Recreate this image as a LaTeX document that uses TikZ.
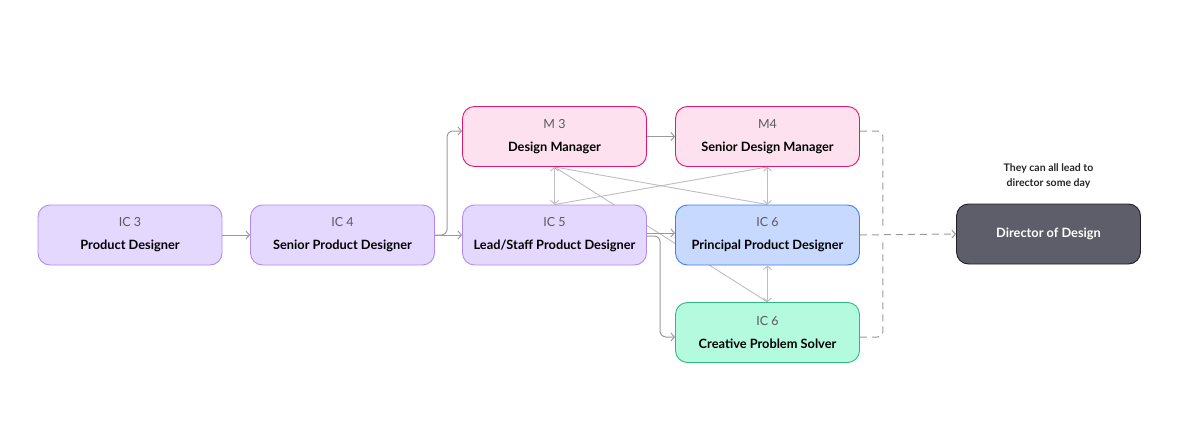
\documentclass[tikz,border=0pt]{standalone}
\usepackage{fontspec}
\setmainfont{Lato}
\usetikzlibrary{arrows.meta,calc}
\definecolor{icfill}{HTML}{E4D8FE}
\definecolor{icdraw}{HTML}{AE8CF7}
\definecolor{mfill}{HTML}{FEE1EF}
\definecolor{mdraw}{HTML}{E3176F}
\definecolor{pfill}{HTML}{C7D9FE}
\definecolor{pdraw}{HTML}{3D7EF6}
\definecolor{cfill}{HTML}{B3FADF}
\definecolor{cdraw}{HTML}{2EB982}
\definecolor{dfill}{HTML}{5D5E69}
\definecolor{ddraw}{HTML}{1F1F24}
\definecolor{conn}{HTML}{9B9B9F}
\definecolor{lconn}{HTML}{BDBDC1}
\definecolor{lvl}{HTML}{5A5A5E}
\newcommand\cardtxt[2]{{\fontsize{12.5}{14}\selectfont\color{lvl}#1}\\[11pt]{\fontsize{12.8}{14}\selectfont\bfseries #2}}
\pgfdeclarelayer{bg}
\pgfsetlayers{bg,main}
\begin{document}
\begin{tikzpicture}[x=1pt,y=-1pt,
  card/.style={rounded corners=12pt, minimum width=184pt, minimum height=60pt, line width=0.9pt, align=center, inner sep=0pt},
  icbox/.style={card, fill=icfill, draw=icdraw},
  mbox/.style={card, fill=mfill, draw=mdraw},
  pbox/.style={card, fill=pfill, draw=pdraw},
  cbox/.style={card, fill=cfill, draw=cdraw},
  dbox/.style={card, fill=dfill, draw=ddraw, text=white, font=\fontsize{12.8}{14}\selectfont\bfseries},
  tip/.style={-{Straight Barb[length=3.5pt,width=8pt]}},
  btip/.style={{Straight Barb[length=3.5pt,width=8pt]}-{Straight Barb[length=3.5pt,width=8pt]}},
  conline/.style={draw=conn, line width=1pt},
  lline/.style={draw=lconn, line width=0.9pt},
  dline/.style={draw=conn, line width=1pt, dash pattern=on 7pt off 5pt},
]
\useasboundingbox (0,0) rectangle (1182,441);

\node[icbox] (ic3) at (130,235) {\cardtxt{IC 3}{Product Designer}};
\node[icbox] (ic4) at (342.5,235) {\cardtxt{IC 4}{Senior Product Designer}};
\node[icbox] (ic5) at (554.5,235) {\cardtxt{IC 5}{Lead/Staff Product Designer}};
\node[mbox] (m3) at (554.5,136.5) {\cardtxt{M 3}{Design Manager}};
\node[mbox] (m4) at (767.5,136.5) {\cardtxt{M4}{Senior Design Manager}};
\node[pbox] (p) at (767.5,235) {\cardtxt{IC 6}{Principal Product Designer}};
\node[cbox] (c) at (767.5,332.5) {\cardtxt{IC 6}{Creative Problem Solver}};
\node[dbox] (dir) at (1048.5,234) {Director of Design};
\node[align=center, font=\fontsize{10.5}{15}\selectfont\bfseries, text=black!85, inner sep=0pt] (note) at (1048.5,175.5) {They can all lead to\\director some day};

\coordinate (j) at ([xshift=23pt]p.east);

\begin{pgfonlayer}{bg}
\draw[lline] (m3.south) -- (p.north);
\draw[lline] (m3.south) -- (c.north);
\draw[lline] (ic5.north) -- (m4.south);
\end{pgfonlayer}

\draw[conline, tip] (ic3) -- (ic4);
\draw[conline, tip] (ic4) -- (ic5);
\draw[conline, tip, rounded corners=6pt] (ic4.east) -| ([xshift=-15pt,yshift=5.5pt]m3.west) -- ([yshift=5.5pt]m3.west);
\draw[conline, tip] (m3) -- (m4);
\draw[lline, btip] (m3.south) -- (ic5.north);
\draw[lline, btip] (m4.south) -- (p.north);
\draw[lline, btip] (p.south) -- (c.north);
\draw[conline, tip] ([yshift=2pt]ic5.east) -- ([yshift=2pt]p.west);
\draw[conline, tip, rounded corners=6pt] ([yshift=-1pt]ic5.east) -| ([xshift=-15pt,yshift=-4.5pt]c.west) -- ([yshift=-4.5pt]c.west);
\draw[dline, rounded corners=6pt] ([yshift=5.5pt]m4.east) -| ([yshift=7pt]j);
\draw[dline, rounded corners=6pt] ([yshift=-4.5pt]c.east) -| ([yshift=-7pt]j);
\draw[dline, tip] (p.east) -- (dir.west);
\end{tikzpicture}
\end{document}
